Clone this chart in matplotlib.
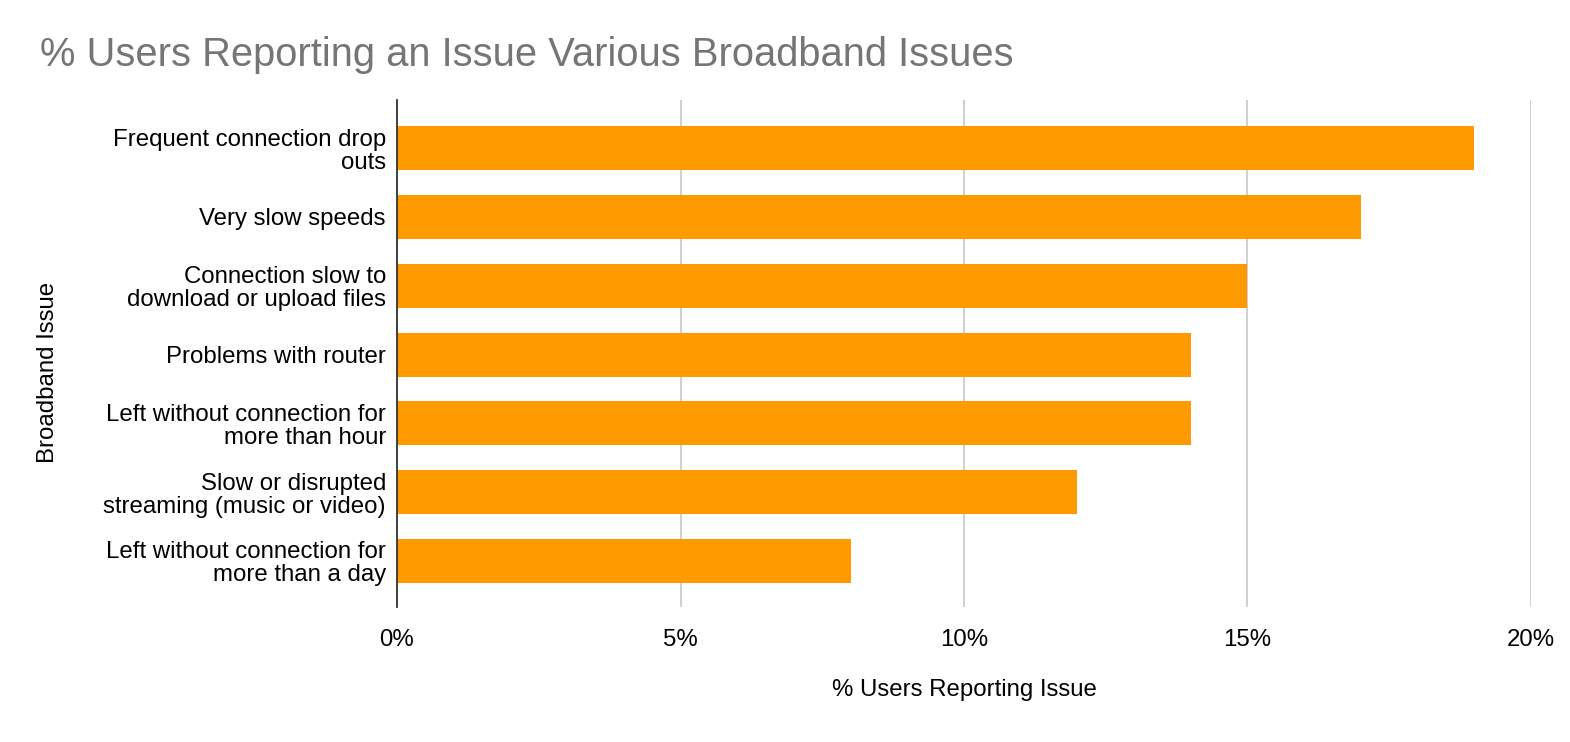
import matplotlib.pyplot as plt
import matplotlib.ticker as mtick

plt.rcParams['font.family'] = ['Liberation Sans', 'DejaVu Sans']

# broadband issues, top to bottom
issues = [
    "Frequent connection drop\nouts",
    "Very slow speeds",
    "Connection slow to\ndownload or upload files",
    "Problems with router",
    "Left without connection for\nmore than hour",
    "Slow or disrupted\nstreaming (music or video)",
    "Left without connection for\nmore than a day",
]
pct = [19, 17, 15, 14, 14, 12, 8]
xticks = [0, 5, 10, 15, 20]

fig = plt.figure(figsize=(15.7, 7.42), dpi=100)
ax = fig.add_axes([397 / 1570, 1 - 607 / 742, (1531 - 397) / 1570, 507 / 742])

ypos = range(len(issues))
ax.barh(ypos, pct, height=0.64, color="#ff9900", zorder=3)
ax.set_yticks(list(ypos))
ax.set_yticklabels(issues, fontsize=17.3, ha="right", linespacing=1.06)
ax.set_ylim(len(issues) - 1 + 0.67, -0.70)

ax.set_xlim(0, 20)
ax.set_xticks(xticks)
ax.xaxis.set_major_formatter(mtick.FuncFormatter(lambda v, p: "%d%%" % v))
ax.tick_params(axis="x", labelsize=17.3, length=0, pad=16)
ax.tick_params(axis="y", length=0, pad=8)
ax.grid(axis="x", color="#cccccc", linewidth=1.3, zorder=0)

for s in ["top", "right", "bottom"]:
    ax.spines[s].set_visible(False)
ax.spines["left"].set_color("#333333")
ax.spines["left"].set_linewidth(1.3)
ax.spines["left"].set_zorder(4)

fig.text(40 / 1570, 1 - 55 / 742, "% Users Reporting an Issue Various Broadband Issues",
         fontsize=28.7, color="#757575", va="center", ha="left")
fig.text(964 / 1570, 1 - 690 / 742, "% Users Reporting Issue", fontsize=17.3,
         ha="center", va="center")
fig.text(48 / 1570, 1 - 372 / 742, "Broadband Issue", fontsize=17.3,
         rotation=90, ha="center", va="center")

fig.savefig("out.png", dpi=100)
